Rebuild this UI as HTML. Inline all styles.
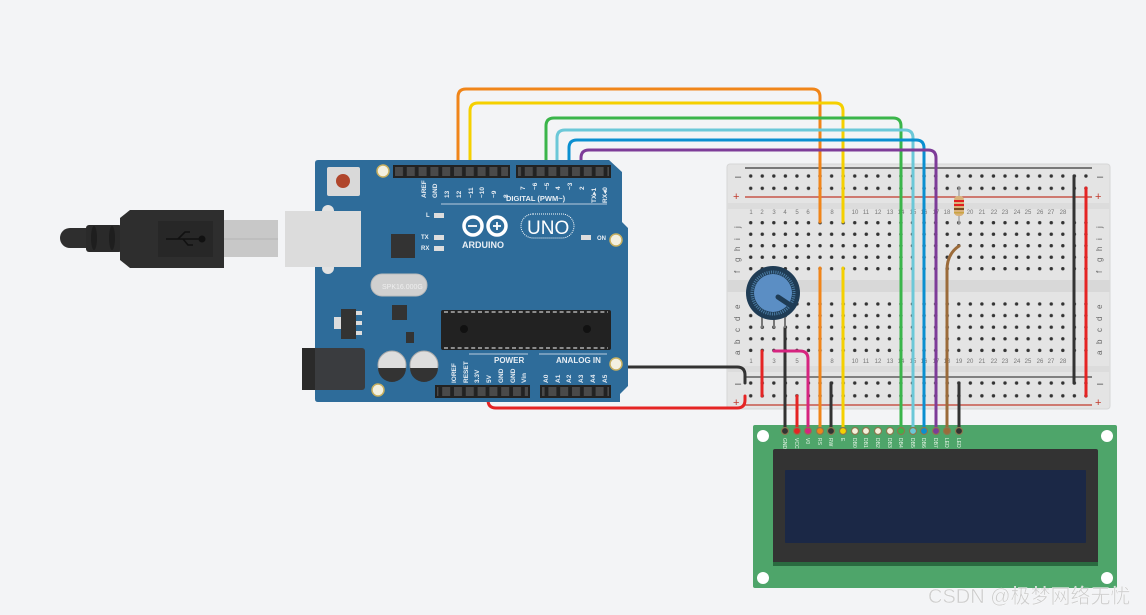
<!DOCTYPE html>
<html><head><meta charset="utf-8"><style>
html,body{margin:0;padding:0;background:#f3f4f6;}
svg{display:block;font-family:"Liberation Sans",sans-serif;}
</style></head><body>
<svg width="1146" height="615" viewBox="0 0 1146 615" xmlns="http://www.w3.org/2000/svg">
<defs>
<pattern id="hole" x="745" y="217" width="11.56" height="11.5" patternUnits="userSpaceOnUse"><circle cx="5.7" cy="5.7" r="1.7" fill="#333"/></pattern>
<pattern id="hole2" x="745" y="298.3" width="11.56" height="11.6" patternUnits="userSpaceOnUse"><circle cx="5.7" cy="5.7" r="1.7" fill="#333"/></pattern>
<pattern id="rail1" x="745" y="170" width="11.56" height="12.3" patternUnits="userSpaceOnUse"><circle cx="5.7" cy="6" r="1.7" fill="#333"/></pattern>
<pattern id="rail2" x="745" y="377" width="11.56" height="12.8" patternUnits="userSpaceOnUse"><circle cx="5.7" cy="6" r="1.7" fill="#333"/></pattern>
<pattern id="hdr" x="393" y="0" width="11.8" height="20" patternUnits="userSpaceOnUse"><rect x="2" y="0" width="8" height="20" fill="#4a4a4a"/></pattern>
</defs>
<rect width="1146" height="615" fill="#f3f4f6"/>

<!-- Breadboard -->
<rect x="727" y="164" width="383" height="245" rx="3" fill="#e4e4e4" stroke="#d6d6d6"/>
<rect x="727" y="203" width="383" height="6" fill="#dcdcdc"/>
<rect x="727" y="280" width="383" height="12" fill="#d8d8d8"/>
<rect x="727" y="366" width="383" height="6" fill="#dcdcdc"/>
<line x1="745" y1="168" x2="1092" y2="168" stroke="#555" stroke-width="1.5"/>
<line x1="745" y1="197" x2="1092" y2="197" stroke="#c0392b" stroke-width="1.2"/>
<line x1="745" y1="377" x2="1092" y2="377" stroke="#444" stroke-width="1.2"/>
<line x1="745" y1="405" x2="1092" y2="405" stroke="#c0392b" stroke-width="1.2"/>
<rect x="745" y="170" width="347" height="24.6" fill="url(#rail1)"/>
<rect x="745" y="377" width="347" height="25.6" fill="url(#rail2)"/>
<rect x="745" y="217" width="347" height="57.5" fill="url(#hole)"/>
<rect x="745" y="298.3" width="347" height="58" fill="url(#hole2)"/>
<g font-size="11" fill="#c0392b"><text x="733" y="200">+</text><text x="1095" y="200">+</text><text x="733" y="406">+</text><text x="1095" y="406">+</text></g>
<g font-size="11" fill="#444"><text x="735" y="180">–</text><text x="1097" y="180">–</text><text x="735" y="387">–</text><text x="1097" y="387">–</text></g>
<g font-size="8" fill="#666">
<text transform="translate(740,228) rotate(-90)">j</text><text transform="translate(740,240) rotate(-90)">i</text><text transform="translate(740,251) rotate(-90)">h</text><text transform="translate(740,262) rotate(-90)">g</text><text transform="translate(740,273) rotate(-90)">f</text>
<text transform="translate(740,309) rotate(-90)">e</text><text transform="translate(740,321) rotate(-90)">d</text><text transform="translate(740,332) rotate(-90)">c</text><text transform="translate(740,344) rotate(-90)">b</text><text transform="translate(740,355) rotate(-90)">a</text>
<text transform="translate(1102,228) rotate(-90)">j</text><text transform="translate(1102,240) rotate(-90)">i</text><text transform="translate(1102,251) rotate(-90)">h</text><text transform="translate(1102,262) rotate(-90)">g</text><text transform="translate(1102,273) rotate(-90)">f</text>
<text transform="translate(1102,309) rotate(-90)">e</text><text transform="translate(1102,321) rotate(-90)">d</text><text transform="translate(1102,332) rotate(-90)">c</text><text transform="translate(1102,344) rotate(-90)">b</text><text transform="translate(1102,355) rotate(-90)">a</text>
</g>
<g font-size="6" fill="#777" text-anchor="middle">
<text x="751" y="214">1</text><text x="762" y="214">2</text><text x="774" y="214">3</text><text x="785" y="214">4</text><text x="797" y="214">5</text><text x="808" y="214">6</text><text x="820" y="214">7</text><text x="832" y="214">8</text><text x="843" y="214">9</text><text x="855" y="214">10</text><text x="866" y="214">11</text><text x="878" y="214">12</text><text x="890" y="214">13</text><text x="901" y="214">14</text><text x="913" y="214">15</text><text x="924" y="214">16</text><text x="936" y="214">17</text><text x="947" y="214">18</text><text x="959" y="214">19</text><text x="970" y="214">20</text><text x="982" y="214">21</text><text x="994" y="214">22</text><text x="1005" y="214">23</text><text x="1017" y="214">24</text><text x="1028" y="214">25</text><text x="1040" y="214">26</text><text x="1051" y="214">27</text><text x="1063" y="214">28</text>
<text x="751" y="363">1</text><text x="762" y="363">2</text><text x="774" y="363">3</text><text x="785" y="363">4</text><text x="797" y="363">5</text><text x="808" y="363">6</text><text x="820" y="363">7</text><text x="832" y="363">8</text><text x="843" y="363">9</text><text x="855" y="363">10</text><text x="866" y="363">11</text><text x="878" y="363">12</text><text x="890" y="363">13</text><text x="901" y="363">14</text><text x="913" y="363">15</text><text x="924" y="363">16</text><text x="936" y="363">17</text><text x="947" y="363">18</text><text x="959" y="363">19</text><text x="970" y="363">20</text><text x="982" y="363">21</text><text x="994" y="363">22</text><text x="1005" y="363">23</text><text x="1017" y="363">24</text><text x="1028" y="363">25</text><text x="1040" y="363">26</text><text x="1051" y="363">27</text><text x="1063" y="363">28</text>
</g>

<!-- LCD -->
<rect x="753" y="425" width="364" height="163" rx="2" fill="#4ea56a"/>
<rect x="773" y="449" width="325" height="116" rx="2" fill="#333"/>
<rect x="773" y="562" width="325" height="4" fill="#2a6b40"/>
<rect x="785" y="470" width="301" height="73" rx="1" fill="#1b2846"/>
<g fill="#fff"><circle cx="763" cy="436" r="6"/><circle cx="1107" cy="436" r="6"/><circle cx="763" cy="578" r="6"/><circle cx="1107" cy="578" r="6"/></g>

<!-- Wires -->
<g fill="none" stroke-width="3" stroke-linecap="round" stroke-linejoin="round">
<path d="M458,170 V97 Q458,89 466,89 H812 Q820,89 820,97 V222 M820,268 V430" stroke="#f08519"/>
<path d="M470,170 V111 Q470,103 478,103 H835 Q843,103 843,111 V222 M843,268 V430" stroke="#f5d000"/>
<path d="M546,170 V126 Q546,118 554,118 H893 Q901,118 901,126 V430" stroke="#3ab54a"/>
<path d="M557,170 V138 Q557,130 565,130 H905 Q913,130 913,138 V430" stroke="#6bc8d8"/>
<path d="M569,170 V148 Q569,140 577,140 H916 Q924,140 924,148 V430" stroke="#0a8fd0"/>
<path d="M581,170 V158 Q581,150 589,150 H928 Q936,150 936,158 V430" stroke="#7d3c98"/>
<path d="M785,328 V430" stroke="#333"/>
<path d="M797,396 V430" stroke="#e52424"/>
<path d="M774,351 H800 Q808,351 808,359 V430" stroke="#d6247f"/>
<path d="M762,351 V396" stroke="#e52424"/>
<path d="M831,383 V430" stroke="#333"/>
<path d="M959,383 V430" stroke="#333"/>
<path d="M959,246 Q947,254 947,270 V430" stroke="#9b6b3a"/>
<path d="M1074,176 V383" stroke="#333"/>
<path d="M1086,188 V396" stroke="#e52424"/>
<path d="M499,390 V375 Q499,367 507,367 H737 Q745,367 745,375 V383" stroke="#333"/>
<path d="M488,390 V400 Q488,408 496,408 H737 Q745,408 745,400 V396" stroke="#e52424"/>
</g>
<!-- resistor -->
<line x1="959" y1="186" x2="959" y2="224" stroke="#aaa" stroke-width="1.5"/>
<rect x="954" y="196" width="10" height="20" rx="4" fill="#d9b27a"/>
<rect x="954" y="200" width="10" height="2" fill="#e01f1f"/><rect x="954" y="204" width="10" height="2" fill="#e01f1f"/><rect x="954" y="208" width="10" height="2" fill="#7a4a1e"/><rect x="954" y="212" width="10" height="1.5" fill="#c9a441"/>

<!-- pot -->
<line x1="762" y1="310" x2="762" y2="328" stroke="#777" stroke-width="2"/>
<line x1="774" y1="310" x2="774" y2="328" stroke="#777" stroke-width="2"/>
<line x1="785" y1="310" x2="785" y2="328" stroke="#777" stroke-width="2"/>
<circle cx="773" cy="293" r="27" fill="#1f3c55"/>
<circle cx="773" cy="293" r="21" fill="none" stroke="#4c7ea6" stroke-width="3" stroke-dasharray="1 1.2"/>
<circle cx="773" cy="293" r="19" fill="#5b8ec4"/>
<line x1="778" y1="297" x2="790" y2="305" stroke="#1f3c55" stroke-width="5" stroke-linecap="round"/>

<!-- LCD pins -->
<g stroke="#8a7a50" stroke-width="1.2">
<circle cx="785" cy="431" r="3.5" fill="#333"/><circle cx="797" cy="431" r="3.5" fill="#e52424"/><circle cx="808" cy="431" r="3.5" fill="#d6247f"/><circle cx="820" cy="431" r="3.5" fill="#f08519"/><circle cx="831" cy="431" r="3.5" fill="#333"/><circle cx="843" cy="431" r="3.5" fill="#f5d000"/>
<circle cx="855" cy="431" r="3.5" fill="#f5f0dc"/><circle cx="866" cy="431" r="3.5" fill="#f5f0dc"/><circle cx="878" cy="431" r="3.5" fill="#f5f0dc"/><circle cx="890" cy="431" r="3.5" fill="#f5f0dc"/>
<circle cx="901" cy="431" r="3.5" fill="#3ab54a"/><circle cx="913" cy="431" r="3.5" fill="#6bc8d8"/><circle cx="924" cy="431" r="3.5" fill="#0a8fd0"/><circle cx="936" cy="431" r="3.5" fill="#7d3c98"/><circle cx="947" cy="431" r="3.5" fill="#9b6b3a"/><circle cx="959" cy="431" r="3.5" fill="#333"/>
</g>
<g font-size="5" fill="#e8f5e8">
<text transform="translate(783,438) rotate(90)">GND</text><text transform="translate(795,438) rotate(90)">VCC</text><text transform="translate(806,438) rotate(90)">V0</text><text transform="translate(818,438) rotate(90)">RS</text><text transform="translate(829,438) rotate(90)">RW</text><text transform="translate(841,438) rotate(90)">E</text>
<text transform="translate(853,438) rotate(90)">DB0</text><text transform="translate(864,438) rotate(90)">DB1</text><text transform="translate(876,438) rotate(90)">DB2</text><text transform="translate(888,438) rotate(90)">DB3</text><text transform="translate(899,438) rotate(90)">DB4</text><text transform="translate(911,438) rotate(90)">DB5</text><text transform="translate(922,438) rotate(90)">DB6</text><text transform="translate(934,438) rotate(90)">DB7</text><text transform="translate(945,438) rotate(90)">LED</text><text transform="translate(957,438) rotate(90)">LED</text>
</g>

<!-- USB cable -->
<rect x="60" y="228" width="40" height="20" rx="10" fill="#2e2e2e"/>
<rect x="86" y="225" width="36" height="27" rx="3" fill="#2a2a2a"/>
<ellipse cx="94" cy="238" rx="3" ry="12" fill="#1e1e1e"/><ellipse cx="112" cy="238" rx="3" ry="12" fill="#1e1e1e"/>
<path d="M120,218 L130,210 H224 V268 H130 L120,260 Z" fill="#2e2e2e"/>
<rect x="158" y="221" width="55" height="36" fill="#272727"/>
<path d="M166,239 H204 M178,239 L185,232 H190 M183,239 L188,245 H193" stroke="#111" stroke-width="1.6" fill="none"/>
<circle cx="202" cy="239" r="3.5" fill="#111"/>
<rect x="224" y="220" width="54" height="37" fill="#c8c8c8"/>
<line x1="224" y1="239" x2="278" y2="239" stroke="#b4b4b4"/>

<!-- Arduino -->
<path d="M315,163 Q315,160 318,160 H609 L622,172 V222 L628,228 V386 L620,394 V402 H318 Q315,402 315,399 Z" fill="#2e6c9a"/>
<rect x="327" y="167" width="33" height="29" rx="2" fill="#d9d9d9"/>
<circle cx="343" cy="181" r="7" fill="#b0462c"/>
<circle cx="328" cy="211" r="6" fill="#e2e2e2"/><circle cx="328" cy="268" r="6" fill="#e2e2e2"/>
<rect x="285" y="211" width="76" height="56" fill="#dcdcdc"/>
<g fill="#f3f0e0" stroke="#c8b060" stroke-width="1.5"><circle cx="383" cy="171" r="6"/><circle cx="616" cy="240" r="6"/><circle cx="616" cy="364" r="6"/><circle cx="378" cy="390" r="6"/></g>
<rect x="393" y="165" width="117" height="13" fill="#222"/>
<rect x="516" y="165" width="95" height="13" fill="#222"/>
<rect x="435" y="385" width="95" height="13" fill="#222"/>
<rect x="540" y="385" width="71" height="13" fill="#222"/>
<rect x="395" y="167" width="113" height="9" fill="url(#hdr)"/>
<rect x="518" y="167" width="91" height="9" fill="url(#hdr)"/>
<rect x="437" y="387" width="91" height="9" fill="url(#hdr)"/>
<rect x="542" y="387" width="67" height="9" fill="url(#hdr)"/>
<g font-size="6.5" font-weight="bold" fill="#e8eef4">
<text transform="translate(426,198) rotate(-90)">AREF</text><text transform="translate(437,198) rotate(-90)">GND</text><text transform="translate(449,198) rotate(-90)">13</text><text transform="translate(461,198) rotate(-90)">12</text><text transform="translate(473,198) rotate(-90)">~11</text><text transform="translate(484,198) rotate(-90)">~10</text><text transform="translate(496,198) rotate(-90)">~9</text><text transform="translate(508,198) rotate(-90)">8</text>
<text transform="translate(525,190) rotate(-90)">7</text><text transform="translate(537,190) rotate(-90)">~6</text><text transform="translate(549,190) rotate(-90)">~5</text><text transform="translate(560,190) rotate(-90)">4</text><text transform="translate(572,190) rotate(-90)">~3</text><text transform="translate(584,190) rotate(-90)">2</text><text transform="translate(596,203) rotate(-90)">TX▸1</text><text transform="translate(607,203) rotate(-90)">RX◂0</text>
<text x="506" y="201" font-size="7.5">DIGITAL (PWM~)</text>
<text transform="translate(456,383) rotate(-90)">IOREF</text><text transform="translate(468,383) rotate(-90)">RESET</text><text transform="translate(479,383) rotate(-90)">3.3V</text><text transform="translate(491,383) rotate(-90)">5V</text><text transform="translate(503,383) rotate(-90)">GND</text><text transform="translate(515,383) rotate(-90)">GND</text><text transform="translate(526,383) rotate(-90)">Vin</text>
<text transform="translate(548,383) rotate(-90)">A0</text><text transform="translate(560,383) rotate(-90)">A1</text><text transform="translate(571,383) rotate(-90)">A2</text><text transform="translate(583,383) rotate(-90)">A3</text><text transform="translate(595,383) rotate(-90)">A4</text><text transform="translate(607,383) rotate(-90)">A5</text>
<text x="494" y="363" font-size="8">POWER</text><text x="556" y="363" font-size="8">ANALOG IN</text>
<text x="426" y="217" font-size="6">L</text><text x="421" y="239" font-size="6">TX</text><text x="421" y="250" font-size="6">RX</text><text x="597" y="240" font-size="6">ON</text>
<text x="462" y="248" font-size="9">ARDUINO</text>
</g>
<line x1="441" y1="204" x2="607" y2="204" stroke="#e8eef4" stroke-width="0.8"/>
<line x1="469" y1="354" x2="528" y2="354" stroke="#e8eef4" stroke-width="0.8"/>
<line x1="539" y1="354" x2="607" y2="354" stroke="#e8eef4" stroke-width="0.8"/>
<g fill="#ddd"><rect x="434" y="213" width="10" height="5"/><rect x="434" y="235" width="10" height="5"/><rect x="434" y="246" width="10" height="5"/><rect x="581" y="235" width="10" height="5"/></g>
<g fill="none" stroke="#fff" stroke-width="3.5"><circle cx="473" cy="226" r="9"/><circle cx="497" cy="226" r="9"/></g>
<g stroke="#fff" stroke-width="1.8"><line x1="468" y1="226" x2="477" y2="226"/><line x1="493" y1="226" x2="501" y2="226"/><line x1="497" y1="222" x2="497" y2="230"/></g>
<rect x="521" y="214" width="53" height="24" rx="12" fill="none" stroke="#fff" stroke-width="1" stroke-dasharray="1 1"/>
<text x="527" y="234" font-size="19" fill="#fff">UNO</text>
<rect x="391" y="234" width="24" height="24" fill="#333"/>
<rect x="371" y="274" width="56" height="22" rx="11" fill="#d0d0d0" stroke="#bbb"/>
<text x="382" y="289" font-size="7" fill="#eee">SPK16.000G</text>
<rect x="392" y="305" width="15" height="15" fill="#333"/>
<rect x="341" y="309" width="15" height="30" fill="#333"/><rect x="334" y="317" width="7" height="12" fill="#ddd"/>
<g fill="#ddd"><rect x="356" y="311" width="6" height="4"/><rect x="356" y="321" width="6" height="4"/><rect x="356" y="331" width="6" height="4"/></g>
<rect x="406" y="332" width="8" height="11" fill="#333"/>
<rect x="302" y="348" width="63" height="42" rx="3" fill="#3a3c3f"/><rect x="302" y="348" width="13" height="42" fill="#2a2a2a"/>
<circle cx="392" cy="365" r="14" fill="#ddd" stroke="#aaa"/><path d="M378,368 A14,14 0 0 0 406,368 Z" fill="#333"/>
<circle cx="424" cy="365" r="14" fill="#ddd" stroke="#aaa"/><path d="M410,368 A14,14 0 0 0 438,368 Z" fill="#333"/>
<rect x="441" y="310" width="170" height="40" rx="2" fill="#222"/>
<circle cx="464" cy="329" r="4" fill="#111"/><circle cx="587" cy="329" r="4" fill="#111"/>
<line x1="444" y1="312" x2="608" y2="312" stroke="#ccc" stroke-width="1.2" stroke-dasharray="4 2.8"/>
<line x1="444" y1="348" x2="608" y2="348" stroke="#ccc" stroke-width="1.2" stroke-dasharray="4 2.8"/>

<text x="928" y="603" font-size="20" fill="#cfcfcf" stroke="#fff" stroke-width="0.3" font-family="Liberation Sans, Noto Sans CJK SC, sans-serif">CSDN @极梦网络无忧</text>
</svg>
</body></html>
